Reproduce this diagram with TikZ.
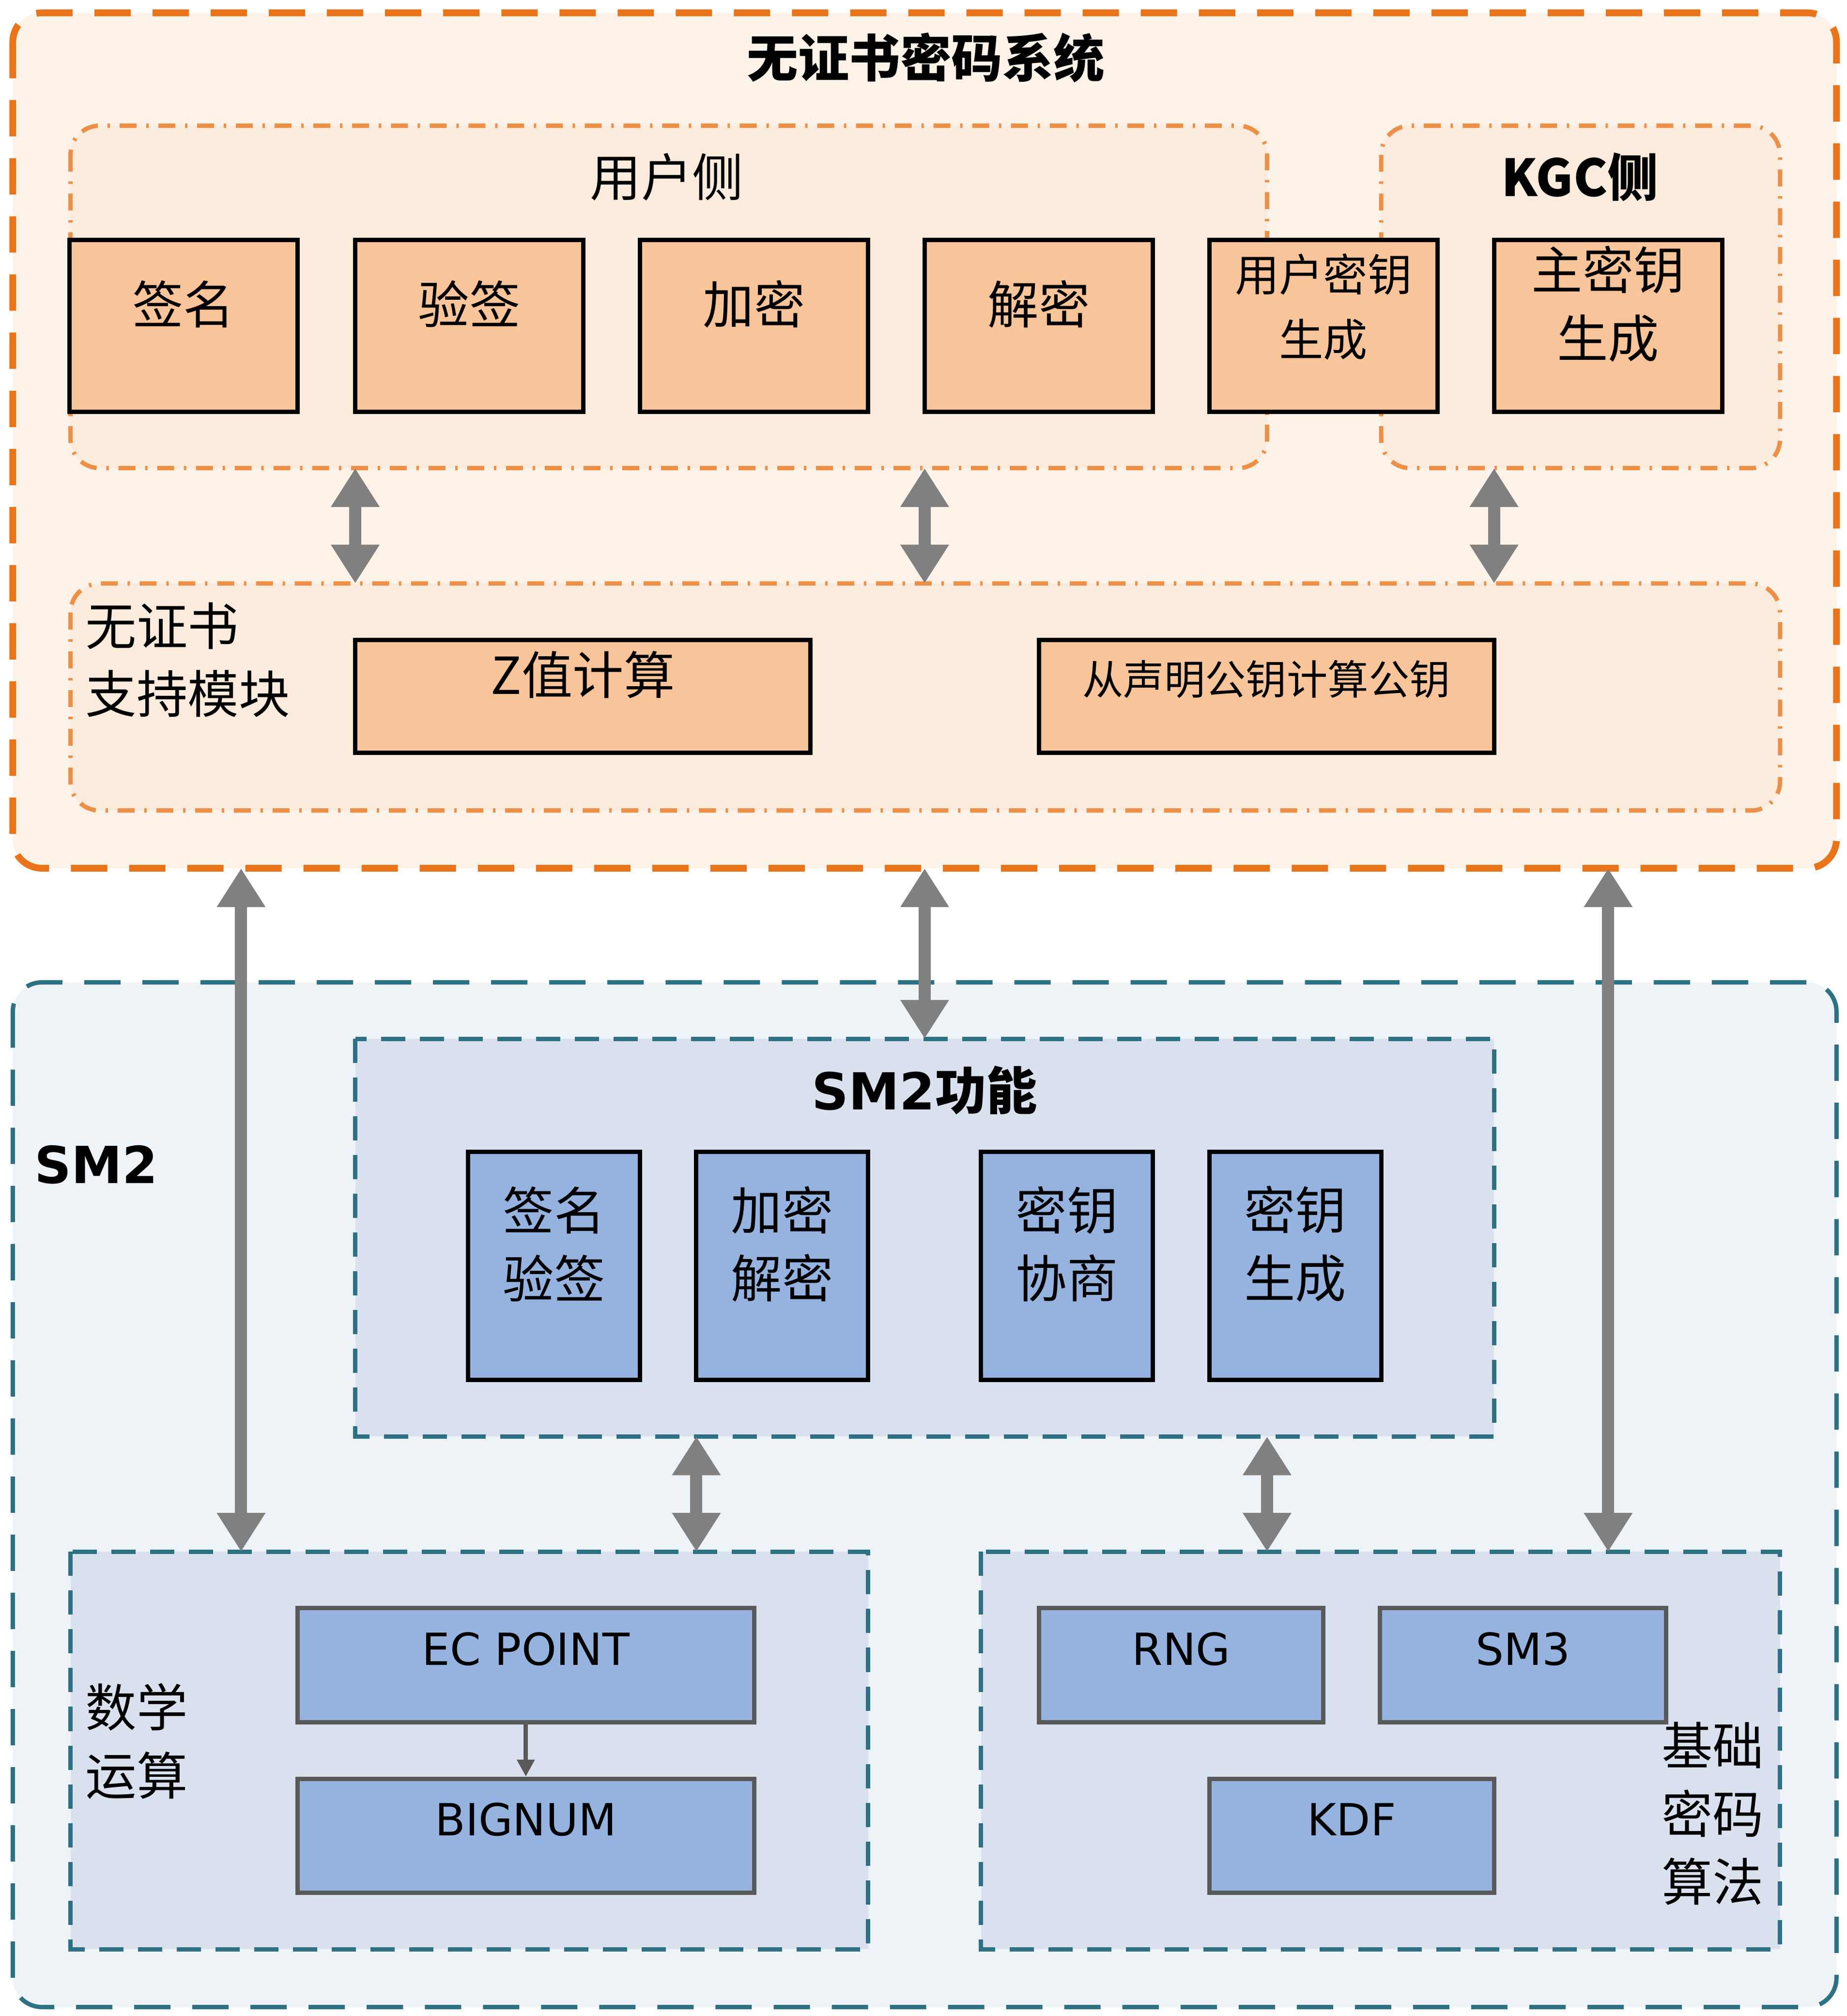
\documentclass[tikz,border=0pt]{standalone}
\usepackage{fontspec}
\setmainfont{DejaVu Sans}
\newfontfamily\cjk{Noto Sans CJK SC}
\usetikzlibrary{arrows.meta,fit}
\definecolor{orline}{HTML}{E97419}
\definecolor{orfill}{HTML}{FDF2E8}
\definecolor{orin}{HTML}{FBEBDD}
\definecolor{peach}{HTML}{F8C49A}
\definecolor{teal}{HTML}{2E7184}
\definecolor{blfill}{HTML}{EEF3F8}
\definecolor{blin}{HTML}{DAE1EE}
\definecolor{blue}{HTML}{95B3DE}
\tikzset{
  outer/.style={rounded corners=0.6cm,line width=0.14cm,dash pattern=on 0.75cm off 0.45cm},
  dashdot/.style={draw=orline!80,rounded corners=0.6cm,line width=0.09cm,dash pattern=on 0.35cm off 0.2cm on 0.05cm off 0.2cm},
  tealdash/.style={draw=teal,fill=blin,line width=0.09cm,dash pattern=on 0.5cm off 0.3cm},
  pbox/.style={draw=black,fill=peach,line width=0.09cm,inner sep=0pt,font=\cjk\fontsize{30}{40}\selectfont,align=center},
  bbox/.style={draw=black,fill=blue,line width=0.09cm,inner sep=0pt,font=\cjk\fontsize{30}{40}\selectfont,align=center},
  gbox/.style={draw=black!65,fill=blue,line width=0.09cm,inner sep=0pt,font=\fontsize{26}{32}\selectfont},
  dbl/.style={draw=black!50,line width=0.25cm,{Triangle[length=0.8cm,width=0.95cm]}-{Triangle[length=0.8cm,width=0.95cm]},shorten <=-0.05cm,shorten >=-0.05cm},
  lbl/.style={font=\cjk\fontsize{30}{40}\selectfont,align=left}
}
\begin{document}
\begin{tikzpicture}[x=0.02648cm,y=-0.02648cm]
\useasboundingbox (0,0) rectangle (1440,1572);
% certificateless system
\draw[outer,draw=orline,fill=orfill] (10,10) rectangle (1432,677);
\node[font=\cjk\bfseries\fontsize{30}{36}\selectfont] (sys) at (722,45) {无证书密码系统};
\draw[dashdot,fill=orin] (55,98) rectangle (988,365);
\draw[dashdot,fill=orin] (1077,98) rectangle (1388,365);
\draw[dashdot,fill=orin] (55,455) rectangle (1388,632);
\node[font=\cjk\fontsize{30}{36}\selectfont] (user) at (520,138) {用户侧};
\node[font=\cjk\bfseries\fontsize{30}{36}\selectfont] (kgc) at (1232,138) {KGC侧};
\node[pbox,fit={(54,187)(232,321)}] (sign) {签名};
\node[pbox,fit={(277,187)(455,321)}] (vrfy) {验签};
\node[pbox,fit={(499,187)(677,321)}] (enc) {加密};
\node[pbox,fit={(721,187)(899,321)}] (dec) {解密};
\node[pbox,fit={(943,187)(1121,321)},font=\cjk\fontsize{26}{38}\selectfont] (ukey) {用户密钥\\生成};
\node[pbox,fit={(1165,187)(1343,321)}] (mkey) {主密钥\\生成};
\node[lbl,anchor=north west] (supp) at (62,465) {无证书\\支持模块};
\node[pbox,fit={(277,499)(632,587)}] (zval) {Z值计算};
\node[pbox,fit={(810,499)(1165,587)},font=\cjk\fontsize{24}{30}\selectfont] (pkey) {从声明公钥计算公钥};
\foreach \x/\n in {277/a,721/b,1165/c}{
  \coordinate (\n1) at (\x,367);
  \coordinate (\n2) at (\x,453);
  \draw[dbl] (\n1) -- (\n2);
}
% SM2
\draw[outer,draw=teal,fill=blfill,line width=0.09cm] (10,766) rectangle (1432,1565);
\node[font=\bfseries\fontsize{30}{36}\selectfont] (sm2) at (75,908) {SM2};
\draw[tealdash] (277,810) rectangle (1165,1120);
\node (func) at (721,850) {\fontsize{30}{36}\selectfont\bfseries SM2{\cjk 功能}};
\node[bbox,fit={(365,898)(499,1076)}] (f1) {签名\\验签};
\node[bbox,fit={(543,898)(677,1076)}] (f2) {加密\\解密};
\node[bbox,fit={(765,898)(899,1076)}] (f3) {密钥\\协商};
\node[bbox,fit={(943,898)(1077,1076)}] (f4) {密钥\\生成};
\draw[tealdash] (55,1210) rectangle (677,1520);
\draw[tealdash] (765,1210) rectangle (1388,1520);
\node[lbl,anchor=north west] (math) at (62,1308) {数学\\运算};
\node[lbl,anchor=north east] (base) at (1380,1338) {基础\\密码\\算法};
\node[gbox,fit={(232,1254)(588,1343)}] (ecp) {EC POINT};
\node[gbox,fit={(232,1387)(588,1476)}] (bn) {BIGNUM};
\node[gbox,fit={(810,1254)(1032,1343)}] (rng) {RNG};
\node[gbox,fit={(1076,1254)(1299,1343)}] (sm3) {SM3};
\node[gbox,fit={(943,1387)(1165,1476)}] (kdf) {KDF};
\draw[draw=black!65,line width=0.09cm,-{Triangle[length=0.35cm,width=0.35cm]}] (ecp) -- (bn);
% connections
\foreach \x/\y/\z/\n in {188/679/1208/d,721/679/808/e,1254/679/1208/f,543/1122/1208/g,988/1122/1208/h}{
  \coordinate (\n1) at (\x,\y);
  \coordinate (\n2) at (\x,\z);
  \draw[dbl] (\n1) -- (\n2);
}
\end{tikzpicture}
\end{document}
